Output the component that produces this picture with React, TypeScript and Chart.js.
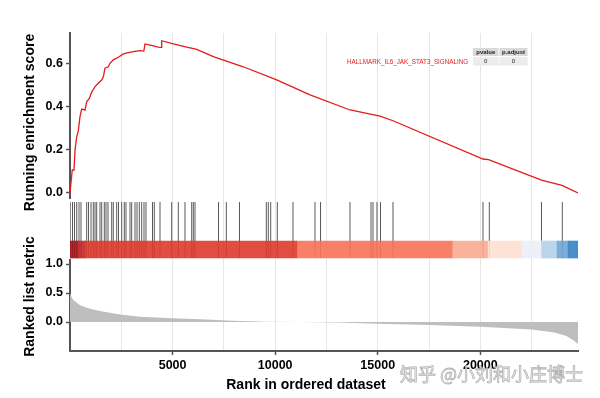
import React, { useEffect, useRef } from 'react';
import { Chart, registerables } from 'chart.js';

Chart.register(...registerables);

// ---------------- data ----------------
const N = 24760;

const esRanks = [0, 50, 110, 195, 245, 325, 405, 487, 570, 730, 815, 940, 1060, 1220, 1380, 1545, 1625, 1705, 1865, 1950, 2110, 2355, 2600, 2840, 3085, 3410, 3600, 3655, 3900, 4305, 4440, 4470, 5035, 5690, 6175, 6985, 8445, 10075, 11700, 13650, 15110, 15745, 20130, 20400, 22980, 23980, 24760];
const esValues = [0.0, 0.05, 0.107, 0.107, 0.2, 0.26, 0.29, 0.355, 0.39, 0.385, 0.425, 0.44, 0.47, 0.495, 0.51, 0.525, 0.54, 0.58, 0.587, 0.603, 0.619, 0.631, 0.647, 0.653, 0.657, 0.662, 0.66, 0.693, 0.688, 0.678, 0.677, 0.708, 0.693, 0.678, 0.668, 0.634, 0.587, 0.526, 0.456, 0.386, 0.357, 0.336, 0.158, 0.155, 0.06, 0.035, 0.0];

const hitRanks = [10, 122, 219, 327, 439, 536, 814, 902, 1024, 1136, 1219, 1301, 1462, 1545, 1672, 1755, 1852, 2032, 2110, 2276, 2364, 2520, 2647, 2729, 2924, 3007, 3168, 3266, 3378, 3495, 3607, 3704, 4021, 4109, 4387, 4957, 5279, 5605, 5932, 6010, 6093, 7238, 7619, 8262, 9568, 9665, 9782, 10104, 10869, 11941, 12209, 13647, 14671, 14768, 14963, 15134, 15743, 20130, 20437, 22981, 23995];

const metricRanks = [0, 50, 160, 490, 975, 1460, 2440, 3410, 4970, 6340, 7950, 9600, 11200, 13000, 15000, 17500, 20000, 22500, 23600, 24200, 24600, 24760];
const metricValues = [0.49, 0.45, 0.38, 0.29, 0.23, 0.19, 0.13, 0.09, 0.064, 0.046, 0.022, 0.006, 0.0, -0.01, -0.03, -0.05, -0.08, -0.13, -0.18, -0.24, -0.33, -0.38];

const barStarts = [0, 400, 750, 11080, 18650, 20380, 22030, 23000, 23740, 24280];
const barEnds = [400, 750, 11080, 18650, 20380, 22030, 23000, 23740, 24280, 24760];
const barColors = ['#A3151B', '#C4262A', '#DE3B2E', '#F77359', '#FAAA91', '#FDE0D2', '#ECEEF8', '#B4D2E8', '#6FA6D4', '#3982C2'];

const esTicks = [0, 0.2, 0.4, 0.6];
const metricTicks = [0, 0.5, 1.0];
const rankTicks = [5000, 10000, 15000, 20000];
const gridStep = 2500;

const geneSetName = 'HALLMARK_IL6_JAK_STAT3_SIGNALING';
const tableHeader = ['pvalue', 'p.adjust'];
const tableValues = ['0', '0'];
const esTitle = 'Running enrichment score';
const metricTitle = 'Ranked list metric';
const rankTitle = 'Rank in ordered dataset';
const watermark = '知乎 @小刘和小庄博士';

// ---------------- layout ----------------
const W = 600;
const H = 398;
const FONT = '"Liberation Sans", Arial, Helvetica, sans-serif';
const AXIS = '#555555';
const GRID = '#e6e6e6';

Chart.defaults.font.family = FONT;

function xScale(showLabels: boolean) {
  return {
    type: 'linear',
    min: 0,
    max: N,
    offset: false,
    afterBuildTicks: (s: any) => {
      const t: any[] = [];
      for (let v = gridStep; v < N; v += gridStep) t.push({ value: v });
      s.ticks = t;
    },
    grid: {
      color: GRID,
      lineWidth: 1,
      offset: false,
      drawTicks: showLabels,
      tickLength: 4,
      tickWidth: 1.5,
      tickColor: (c: any) => (c.tick && rankTicks.includes(c.tick.value) ? AXIS : 'rgba(0,0,0,0)'),
    },
    border: { display: showLabels, color: AXIS, width: 2 },
    ticks: {
      display: showLabels,
      autoSkip: false,
      maxRotation: 0,
      padding: 3,
      color: '#000',
      font: { size: 12.5, weight: 'bold' },
      callback: (v: any) => (rankTicks.includes(Number(v)) ? String(v) : ''),
    },
    afterFit: (s: any) => {
      s.height = showLabels ? 47 : 0;
    },
  };
}

function yScale(min: number, max: number, ticks: number[]) {
  return {
    type: 'linear',
    min,
    max,
    offset: false,
    afterBuildTicks: (s: any) => {
      s.ticks = ticks.map((v) => ({ value: v }));
    },
    grid: { drawOnChartArea: false, drawTicks: true, tickLength: 4, tickColor: AXIS, tickWidth: 1.5 },
    border: { display: true, color: AXIS, width: 2 },
    ticks: {
      color: '#000',
      padding: 3,
      font: { size: 12.5, weight: 'bold' },
      callback: (v: any) => Number(v).toFixed(1),
    },
    afterFit: (s: any) => {
      s.width = 70;
    },
  };
}

function drawRotatedTitle(ctx: CanvasRenderingContext2D, text: string, x: number, y: number) {
  ctx.save();
  ctx.translate(x, y);
  ctx.rotate(-Math.PI / 2);
  ctx.font = `bold 14px ${FONT}`;
  ctx.fillStyle = '#000';
  ctx.textAlign = 'center';
  ctx.textBaseline = 'middle';
  ctx.fillText(text, 0, 0);
  ctx.restore();
}

const esDecor = {
  id: 'esDecor',
  afterDraw(chart: any) {
    const ctx: CanvasRenderingContext2D = chart.ctx;
    drawRotatedTitle(ctx, esTitle, 30, 122.5);
    ctx.save();
    ctx.font = `6.3px ${FONT}`;
    ctx.fillStyle = '#E41A1C';
    ctx.textAlign = 'left';
    ctx.textBaseline = 'middle';
    ctx.fillText(geneSetName, 347, 62.5);
    const cellX = [473, 499.5];
    const cellW = [25.5, 28];
    ctx.fillStyle = '#d9d9d9';
    ctx.fillRect(cellX[0], 48, cellW[0], 8);
    ctx.fillRect(cellX[1], 48, cellW[1], 8);
    ctx.fillStyle = '#ececec';
    ctx.fillRect(cellX[0], 57, cellW[0], 8.5);
    ctx.fillRect(cellX[1], 57, cellW[1], 8.5);
    ctx.textAlign = 'center';
    ctx.fillStyle = '#222';
    ctx.font = `bold 6px ${FONT}`;
    tableHeader.forEach((t, i) => ctx.fillText(t, cellX[i] + cellW[i] / 2, 52.2));
    ctx.font = `6px ${FONT}`;
    tableValues.forEach((t, i) => ctx.fillText(t, cellX[i] + cellW[i] / 2, 61.4));
    ctx.restore();
  },
};

const rankDecor = {
  id: 'rankDecor',
  afterDraw(chart: any) {
    const ctx: CanvasRenderingContext2D = chart.ctx;
    drawRotatedTitle(ctx, metricTitle, 30, 296.5);
    ctx.save();
    ctx.font = `bold 14px ${FONT}`;
    ctx.fillStyle = '#000';
    ctx.textAlign = 'center';
    ctx.textBaseline = 'middle';
    ctx.fillText(rankTitle, 306, 385);
    ctx.font = `18px "Noto Sans CJK SC", sans-serif`;
    ctx.textAlign = 'left';
    ctx.textBaseline = 'middle';
    ctx.fillStyle = 'rgba(255,255,255,0.85)';
    ctx.fillText(watermark, 400, 374);
    ctx.lineWidth = 0.8;
    ctx.strokeStyle = 'rgba(170,170,170,0.9)';
    ctx.strokeText(watermark, 400, 374);
    ctx.restore();
  },
};

const common = {
  responsive: false,
  animation: false,
  events: [],
  plugins: { legend: { display: false }, tooltip: { enabled: false } },
};

export default function App() {
  const c1 = useRef<HTMLCanvasElement>(null);
  const c2 = useRef<HTMLCanvasElement>(null);
  const c3 = useRef<HTMLCanvasElement>(null);

  useEffect(() => {
    const charts: Chart[] = [];

    charts.push(
      new Chart(c1.current as HTMLCanvasElement, {
        type: 'line',
        data: {
          datasets: [
            {
              data: esRanks.map((r, i) => ({ x: r, y: esValues[i] })),
              borderColor: '#E41A1C',
              borderWidth: 1.3,
              pointRadius: 0,
              tension: 0,
            },
          ],
        },
        options: {
          ...common,
          layout: { autoPadding: false, padding: { left: 0, right: W - 578, top: 33, bottom: H - 198 } },
          scales: { x: xScale(false), y: yScale(-0.0233, 0.744, esTicks) },
        } as any,
        plugins: [esDecor],
      })
    );

    charts.push(
      new Chart(c2.current as HTMLCanvasElement, {
        type: 'scatter',
        data: {
          datasets: [
            {
              type: 'bar',
              indexAxis: 'y',
              data: barStarts.map((s, i) => ({ x: [s, barEnds[i]], y: 0.169 })),
              backgroundColor: barColors.map((c) => c + 'E8'),
              borderWidth: 0,
              barThickness: 17,
            } as any,
            {
              type: 'scatter',
              data: hitRanks.map((r) => ({ x: r, y: 0.4835 })),
              pointStyle: 'line',
              rotation: 90,
              radius: 28,
              borderColor: '#5a5a5a',
              borderWidth: 1,
              showLine: false,
            } as any,
          ],
        },
        options: {
          ...common,
          layout: { autoPadding: false, padding: { left: 70, right: W - 578, top: 198, bottom: H - 260 } },
          scales: {
            x: xScale(false),
            y: { type: 'linear', display: false, min: 0, max: 1, offset: false, grid: { offset: false } },
          },
        } as any,
      })
    );

    charts.push(
      new Chart(c3.current as HTMLCanvasElement, {
        type: 'line',
        data: {
          datasets: [
            {
              data: metricRanks.map((r, i) => ({ x: r, y: metricValues[i] })),
              fill: 'origin',
              backgroundColor: '#bebebe',
              borderColor: '#bebebe',
              borderWidth: 0,
              pointRadius: 0,
              tension: 0,
            },
          ],
        },
        options: {
          ...common,
          layout: { autoPadding: false, padding: { left: 0, right: W - 578, top: 260, bottom: 0 } },
          scales: { x: xScale(true), y: yScale(-0.5, 1.069, metricTicks) },
        } as any,
        plugins: [rankDecor],
      })
    );

    return () => charts.forEach((c) => c.destroy());
  }, []);

  const cs: React.CSSProperties = { position: 'absolute', left: 0, top: 0 };
  return (
    <div style={{ position: 'fixed', left: 0, top: 0, width: W, height: H, background: '#fff' }}>
      <canvas ref={c1} width={W} height={H} style={cs} />
      <canvas ref={c2} width={W} height={H} style={cs} />
      <canvas ref={c3} width={W} height={H} style={cs} />
    </div>
  );
}
